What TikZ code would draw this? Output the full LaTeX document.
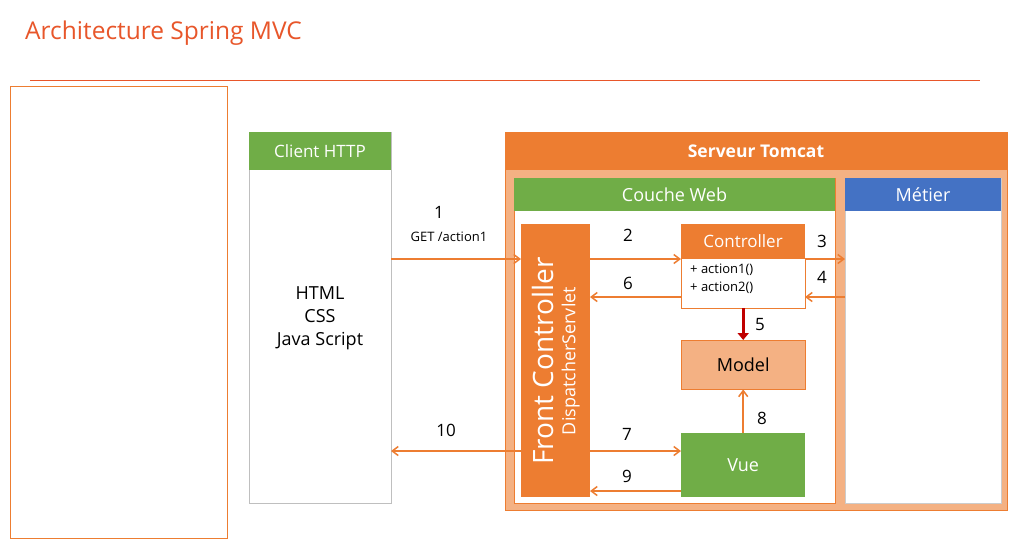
\documentclass[tikz,border=0pt]{standalone}
\usepackage{fontspec}
\setmainfont{Open Sans}
\usetikzlibrary{arrows.meta}
\definecolor{or}{HTML}{ED7D31}
\definecolor{orl}{HTML}{F4B183}
\definecolor{orb}{HTML}{F8CBAD}
\definecolor{gr}{HTML}{70AD47}
\definecolor{bl}{HTML}{4472C4}
\definecolor{ttl}{HTML}{E8562A}
\begin{document}
\begin{tikzpicture}[x=1pt,y=-1pt,
 ar/.style={draw=or,line width=1.5pt,-{Straight Barb[length=6pt,width=9pt]}},
 lbl/.style={font=\fontsize{17}{17}\selectfont},
 hdr/.style={anchor=north west,inner sep=0,outer sep=0,text=white,align=center}]
\useasboundingbox (0,0) rectangle (1015,550);
\fill[white] (0,0) rectangle (1015,550);
\node[anchor=west,text=ttl,font=\fontsize{24.5}{24}\selectfont,inner sep=0] (title) at (25,33) {Architecture Spring MVC};
\draw[ttl,line width=1pt] (30,80) -- (980,80);
\draw[or] (10,86) rectangle (227,538);
% client
\node[draw=gray!50,fill=white,hdr,minimum width=142pt,minimum height=371pt] (cli) at (249,132) {};
\node[fill=gr,hdr,minimum width=142pt,minimum height=38pt,font=\fontsize{17}{17}\selectfont] (clih) at (249,132) {Client HTTP};
\node[align=center,font=\fontsize{18}{23}\selectfont] (html) at (320,318) {HTML\\CSS\\Java Script};
% tomcat
\node[fill=orl,draw=or,hdr,minimum width=502pt,minimum height=378pt] (tom) at (505,132) {};
\node[fill=or,hdr,minimum width=502pt,minimum height=38pt,font=\bfseries\fontsize{17.5}{17}\selectfont] (tomh) at (505,132) {Serveur Tomcat};
\node[fill=white,draw=or,hdr,minimum width=321pt,minimum height=325pt] (web) at (514,178) {};
\node[fill=gr,hdr,minimum width=321pt,minimum height=33pt,font=\fontsize{18}{18}\selectfont] (webh) at (514,178) {Couche Web};
\node[fill=white,draw=gray!40,hdr,minimum width=156pt,minimum height=325pt] (met) at (845,178) {};
\node[fill=bl,hdr,minimum width=156pt,minimum height=33pt,font=\fontsize{18}{18}\selectfont] (meth) at (845,178) {Métier};
% front controller
\node[fill=or,hdr,minimum width=69pt,minimum height=273pt] (fc) at (521,224) {};
\node[rotate=90,text=white,align=center,font=\fontsize{28}{28}\selectfont] (fct) at (556,361) {Front Controller\\[-6pt]{\fontsize{18}{20}\selectfont DispatcherServlet}};
% controller
\node[fill=or,hdr,minimum width=124pt,minimum height=34pt,font=\fontsize{17}{17}\selectfont] (ctl) at (681,224) {Controller};
\node[fill=white,draw=or,anchor=north west,minimum width=124pt,minimum height=50pt,inner sep=0] (act) at (681,258) {};
\node[anchor=north west,align=left,font=\fontsize{13}{18}\selectfont,inner sep=0] (actt) at (690,264) {+ action1()\\+ action2()};
\node[fill=orl,draw=or,anchor=north west,minimum width=124pt,minimum height=49pt,inner sep=0,font=\fontsize{18}{18}\selectfont] (mod) at (681,340) {Model};
\node[fill=gr,anchor=north west,minimum width=124pt,minimum height=64pt,inner sep=0,text=white,font=\fontsize{18}{18}\selectfont] (vue) at (681,433) {Vue};
% coordinates
\coordinate (c1a) at (391,259); \coordinate (c1b) at (521,259);
\coordinate (c2a) at (590,259); \coordinate (c2b) at (681,259);
\coordinate (c3a) at (805,259); \coordinate (c3b) at (845,259);
\coordinate (c4a) at (845,297); \coordinate (c4b) at (805,297);
\coordinate (c6a) at (681,297); \coordinate (c6b) at (590,297);
\coordinate (c7a) at (590,451); \coordinate (c7b) at (681,451);
\coordinate (c10a) at (521,451); \coordinate (c10b) at (391,451);
\coordinate (c9a) at (681,491); \coordinate (c9b) at (590,491);
\draw[ar] (c1a) -- (c1b);
\draw[ar] (c2a) -- (c2b);
\draw[ar] (c3a) -- (c3b);
\draw[ar] (c4a) -- (c4b);
\draw[ar] (c6a) -- (c6b);
\draw[ar] (c7a) -- (c7b);
\draw[ar] (c10a) -- (c10b);
\draw[ar] (c9a) -- (c9b);
\draw[ar] (vue.north) -- (mod.south);
\draw[draw={rgb,255:red,192;green,0;blue,0},line width=3pt,-{Triangle[length=7pt,width=11pt]}] (act.south) -- (mod.north);
\node[lbl] (l1) at (439,212) {1};
\node[font=\fontsize{13}{13}\selectfont] (l1b) at (449,237) {GET /action1};
\node[lbl] (l2) at (628,235) {2};
\node[lbl] (l3) at (822,241) {3};
\node[lbl] (l4) at (822,277) {4};
\node[lbl] (l5) at (760,325) {5};
\node[lbl] (l6) at (628,283) {6};
\node[lbl] (l7) at (627,434) {7};
\node[lbl] (l8) at (762,418) {8};
\node[lbl] (l9) at (627,476) {9};
\node[lbl] (l10) at (446,430) {10};
\end{tikzpicture}
\end{document}
